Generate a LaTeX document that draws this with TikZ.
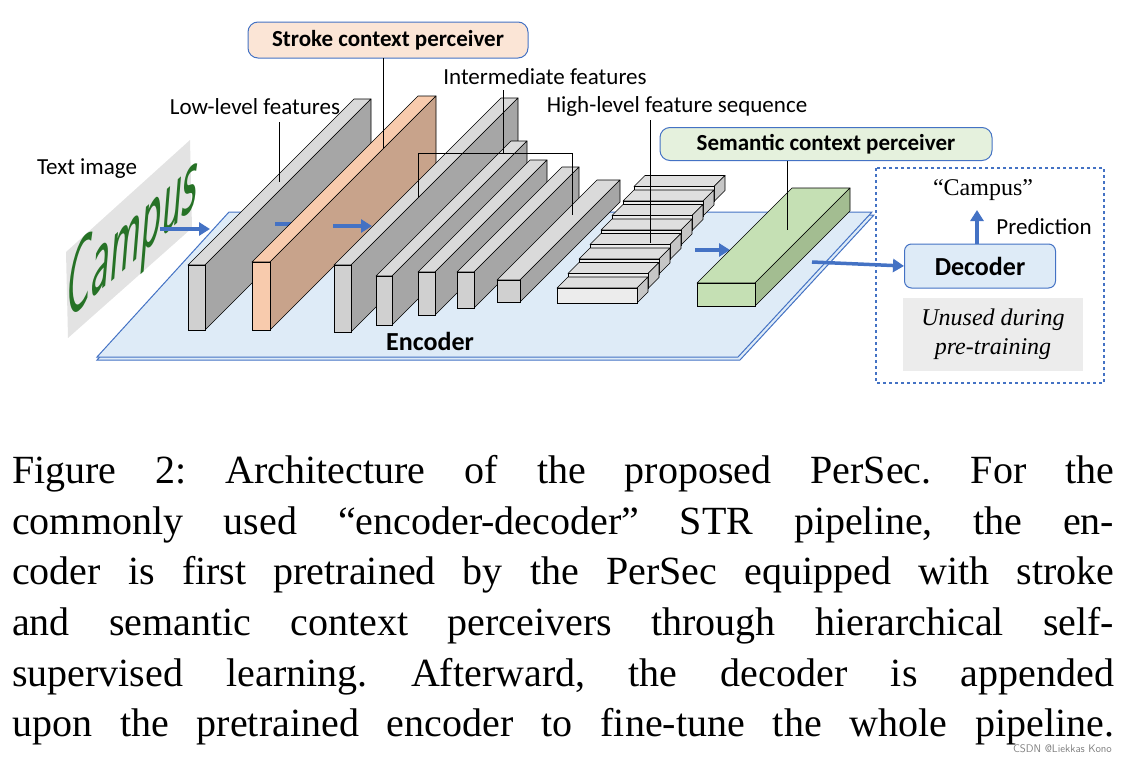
\documentclass[tikz,border=0pt]{standalone}
\usepackage{fontspec}
\setmainfont{Liberation Serif}
\newfontfamily\carl{Carlito}
\usetikzlibrary{arrows.meta}
\begin{document}
\definecolor{ablue}{HTML}{4472C4}
\definecolor{plane}{HTML}{DEEBF7}
\definecolor{gfront}{HTML}{D0D0D0}
\definecolor{gside}{HTML}{A6A6A6}
\definecolor{gtop}{HTML}{DADADA}
\definecolor{ofront}{HTML}{F8CBAD}
\definecolor{oside}{HTML}{C8A38B}
\definecolor{grfront}{HTML}{C5E0B4}
\definecolor{grside}{HTML}{A3BD91}
\newcommand\prism[8]{%
  \filldraw[draw=black,line width=0.6pt,fill=#8,line join=round] (#1,#3)--({#1+#5},{#3-#5})--({#2+#5},{#3-#5})--(#2,#3)--cycle;
  \filldraw[draw=black,line width=0.6pt,fill=#7,line join=round] (#2,#3)--({#2+#5},{#3-#5})--({#2+#5},{#4-#5})--(#2,#4)--cycle;
  \filldraw[draw=black,line width=0.6pt,fill=#6] (#1,#3) rectangle (#2,#4);}
\begin{tikzpicture}[x=1pt,y=-1pt,
  lbl/.style={font=\carl\fontsize{23}{23}\selectfont,inner sep=0pt},
  blbl/.style={font=\carl\bfseries\fontsize{23}{23}\selectfont,inner sep=0pt},
  barrow/.style={-{Triangle[length=11pt,width=13pt]},ablue,line width=3.5pt},
  lead/.style={black,line width=1pt}]
\useasboundingbox (0,0) rectangle (1128,766);
% plane
\filldraw[draw=ablue,fill=plane,line width=1pt] (97,360)--(740,360)--(874,215)--(231,215)--cycle;
\filldraw[draw=ablue,fill=plane,line width=1pt] (97,357)--(738,357)--(872,212)--(229,212)--cycle;
\node[blbl,font=\carl\bfseries\fontsize{26}{26}\selectfont] (enc) at (430,341) {Encoder};
% text image
\fill[gray!22] (66,252)--(190,140)--(192,228)--(68,338)--cycle;
\begin{scope}[shift={(130,240)},yslant=0.89]
\node[transform shape,xscale=0.42,text=green!35!black!85,font=\sffamily\itshape\fontsize{100}{100}\selectfont,inner sep=0pt] (campusimg) at (0,0) {Campus};
\end{scope}
\node[lbl] (textimg) at (87,169) {Text image};
\coordinate (a1s) at (160,229); \coordinate (a1e) at (210,229);
\draw[barrow] (a1s)--(a1e);
% low-level
\prism{188}{205}{265}{330}{166}{gfront}{gside}{gtop}
\coordinate (a2s) at (275,224); \coordinate (a2e) at (300,224);
\draw[ablue,line width=3.5pt] (a2s)--(a2e);
% stroke
\prism{252}{270}{262}{330}{166}{ofront}{oside}{ofront}
\coordinate (a3s) at (333,226); \coordinate (a3e) at (372,226);
\draw[barrow] (a3s)--(a3e);
% intermediate
\prism{334}{351}{265}{332}{167}{gfront}{gside}{gtop}
\prism{376}{392}{276}{325}{135}{gfront}{gside}{gtop}
\prism{418}{435}{272}{315}{112}{gfront}{gside}{gtop}
\prism{457}{474}{272}{308}{105}{gfront}{gside}{gtop}
\prism{497}{520}{280}{302}{100}{gfront}{gside}{gtop}
% high-level sequence
\foreach \i in {7,6,...,0}{
  \prism{557+11*\i}{637+11*\i}{288-14.5*\i}{303-14.5*\i}{11}{gray!15}{gray!45}{gray!25}}
\coordinate (a4s) at (695,250); \coordinate (a4e) at (730,250);
\draw[barrow] (a4s)--(a4e);
% semantic
\prism{697}{755}{283}{306}{95}{grfront}{grside}{grfront}
% decoder side
\draw[ablue,dashed,line width=1.2pt] (876,168) rectangle (1104,383);
\node[draw=ablue,line width=1pt,fill=plane,rounded corners=7pt,minimum width=151pt,minimum height=44pt,font=\carl\bfseries\fontsize{26}{26}\selectfont] (dec) at (980,266) {Decoder};
\coordinate (a5s) at (812,262);
\draw[barrow] (a5s)--(dec.west);
\node[font=\fontsize{24}{24}\selectfont,inner sep=1pt] (pred) at (983,190) {``Campus''};
\draw[barrow] (dec.north-|977,0)--(977,210);
\node[lbl] (predl) at (1044,227) {Prediction};
\node[fill=gray!15,minimum width=180pt,minimum height=73pt,align=center,font=\itshape\fontsize{24}{29}\selectfont] (unused) at (993,334) {Unused during\\pre-training};
% labels
\node[draw=ablue,line width=1pt,fill=ofront!50,rounded corners=10pt,minimum width=280pt,minimum height=36pt,blbl] (stroke) at (388,40) {Stroke context perceiver};
\draw[lead] (383,58)--(383,148);
\node[draw=ablue,line width=1pt,fill=grfront!45,rounded corners=10pt,minimum width=332pt,minimum height=33pt,blbl] (sem) at (826,144) {Semantic context perceiver};
\draw[lead] (787,161)--(787,230);
\node[lbl] (low) at (255,107) {Low-level features};
\draw[lead] (279,122)--(279,182);
\node[lbl] (inter) at (545,77) {Intermediate features};
\draw[lead] (503,90)--(503,153);
\draw[lead] (418,197)--(418,153)--(572,153)--(572,215);
\node[lbl] (high) at (677,106) {High-level feature sequence};
\draw[lead] (650,120)--(650,243);
% caption
\foreach \t [count=\k] in {
{Figure 2: Architecture of the proposed PerSec. For the},
{commonly used ``encoder-decoder'' STR pipeline, the en-},
{coder is first pretrained by the PerSec equipped with stroke},
{and semantic context perceivers through hierarchical self-},
{supervised learning. Afterward, the decoder is appended},
{upon the pretrained encoder to fine-tune the whole pipeline.}}{
\node[anchor=base west,inner sep=0pt,font=\frenchspacing\fontsize{40}{40}\selectfont] (cap\k) at (12,{433+50.6*\k}) {\makebox[1102pt][s]{\t}};}
\node[anchor=base east,inner sep=0pt,text=gray,font=\sffamily\fontsize{11}{11}\selectfont] (wm) at (1112,752) {CSDN @Liekkas Kono};
\end{tikzpicture}
\end{document}
